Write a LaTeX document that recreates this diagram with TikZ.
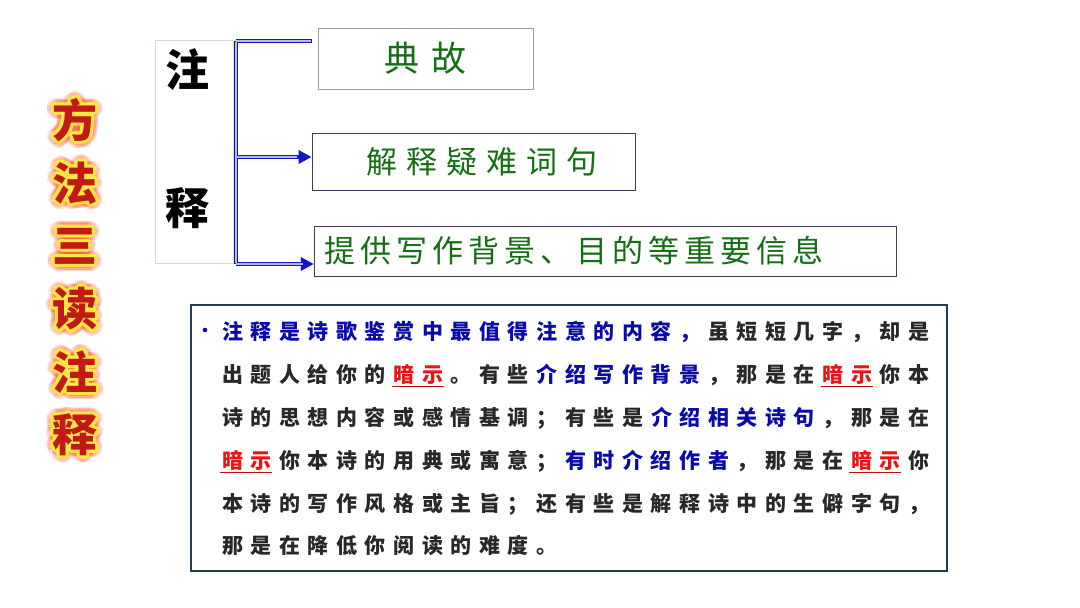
\documentclass[tikz,border=0pt]{standalone}
\usepackage{fontspec}
\usetikzlibrary{arrows.meta,calc}
\newfontfamily\cjk{Noto Sans CJK SC}
\definecolor{navy}{RGB}{10,10,170}
\definecolor{bodytext}{RGB}{40,40,40}
\definecolor{hintred}{RGB}{235,20,20}
\definecolor{leafgreen}{RGB}{20,110,20}
\definecolor{linkblue}{RGB}{20,20,200}
\definecolor{frame}{RGB}{35,60,80}
\definecolor{titlered}{RGB}{195,25,20}
\definecolor{glowyellow}{RGB}{255,232,70}
\definecolor{lightframe}{RGB}{150,155,175}
\definecolor{darkframe}{RGB}{60,60,90}
\definecolor{paleframe}{RGB}{205,220,205}
\newdimen\cw
\makeatletter
\def\spaced#1{\spaced@loop#1\@nil}
\def\spaced@loop#1{\ifx\@nil#1\else\makebox[\cw][c]{#1}\expandafter\spaced@loop\fi}
\makeatother
\newcommand\hint{\makebox[0pt][l]{\hspace*{2pt}\textcolor{hintred!80!black}{\rule[-5pt]{52pt}{0.8pt}}}{\color{hintred}\spaced{暗示}}}
\tikzset{
  leafbox/.style={draw=#1, line width=0.8pt, inner sep=0pt, text=leafgreen, font=\cjk},
  bodyline/.style={anchor=base west, inner sep=0pt, text=bodytext, font=\cjk\bfseries\fontsize{21}{21}\selectfont},
  bracketline/.style={draw=linkblue, line width=4pt},
  bracketcore/.style={draw=white!70!linkblue, line width=1.2pt},
  tip/.style={-{Triangle[length=13pt,width=13pt]}},
  titlefont/.style={font=\cjk\bfseries\fontsize{45}{45}\selectfont},
}
\begin{document}
\begin{tikzpicture}[x=1pt,y=-1pt]
\useasboundingbox[fill=white] (0,0) rectangle (1080,608);
% title with glow
\foreach \c [count=\i] in {方,法,三,读,注,释}{
  \foreach \a in {0,20,...,340}{
    \node[titlefont, text=red!60!orange, opacity=0.12] at ($(75,{120+63*(\i-1)})+(\a:7)$) {\c};
  }
  \foreach \a in {0,30,...,330}{
    \node[titlefont, text=glowyellow] at ($(75,{120+63*(\i-1)})+(\a:3)$) {\c};
  }
  \node[titlefont, text=titlered] (t\i) at (75,{120+63*(\i-1)}) {\c};
}
% 注释 box
\node[draw=paleframe, line width=0.8pt, minimum width=78pt, minimum height=223pt, inner sep=0pt] (zsbox) at (194,151.5) {};
\node[font=\cjk\bfseries\fontsize{44}{44}\selectfont] (zhu) at (187,70) {注};
\node[font=\cjk\bfseries\fontsize{44}{44}\selectfont] (shi) at (187,208) {释};
% leaf boxes
\node[leafbox=lightframe, minimum width=215pt, minimum height=61pt] (b1) at (425.5,58.5)
  {\fontsize{35}{35}\selectfont\cw=48pt\spaced{典故}};
\node[leafbox=darkframe, minimum width=323pt, minimum height=57pt] (b2) at (473.5,161.5)
  {\hspace*{17pt}\fontsize{31}{31}\selectfont\cw=40pt\spaced{解释疑难词句}};
\node[leafbox=darkframe, minimum width=575pt, minimum height=50pt, text width=567.5pt, inner xsep=7.5pt, align=left] (b3) at (605.5,251)
  {\fontsize{31}{31}\selectfont\cw=36pt\spaced{提供写作背景、目的等重要信息}};
% bracket
\coordinate (jtop) at (236,41);
\coordinate (jmid) at (236,157);
\coordinate (jbot) at (236,264);
\coordinate (topend) at (312,41);
\draw[bracketline] (jtop) -- (jbot);
\draw[bracketline] (jtop) -- (topend);
\draw[bracketline, tip] (jmid) -- (b2.west|-jmid);
\draw[bracketline, tip] (jbot) -- (b3.west|-jbot);
\draw[bracketcore] (236,42) -- (236,263);
\draw[bracketcore] (236,41) -- (311,41);
\draw[bracketcore] (236,157) -- (297,157);
\draw[bracketcore] (236,264) -- (303,264);
% body box
\node[draw=frame, line width=2.5pt, minimum width=756pt, minimum height=266pt, inner sep=0pt] (body) at (569,438) {};
\fill[navy] (205,330) circle (2.3pt);
\node[bodyline] (l1) at (218,339) {\cw=28.6pt{\color{navy}\spaced{注释是诗歌鉴赏中最值得注意的内容，}}\spaced{虽短短几字，却是}};
\node[bodyline] (l2) at (218,382) {\cw=28.6pt\spaced{出题人给你的}\hint\spaced{。有些}{\color{navy}\spaced{介绍写作背景}}\spaced{，那是在}\hint\spaced{你本}};
\node[bodyline] (l3) at (218,425) {\cw=28.6pt\spaced{诗的思想内容或感情基调；有些是}{\color{navy}\spaced{介绍相关诗句}}\spaced{，那是在}};
\node[bodyline] (l4) at (218,468) {\cw=28.6pt\hint\spaced{你本诗的用典或寓意；}{\color{navy}\spaced{有时介绍作者}}\spaced{，那是在}\hint\spaced{你}};
\node[bodyline] (l5) at (218,511) {\cw=28.6pt\spaced{本诗的写作风格或主旨；还有些是解释诗中的生僻字句，}};
\node[bodyline] (l6) at (218,553) {\cw=28.6pt\spaced{那是在降低你阅读的难度。}};
\end{tikzpicture}
\end{document}
